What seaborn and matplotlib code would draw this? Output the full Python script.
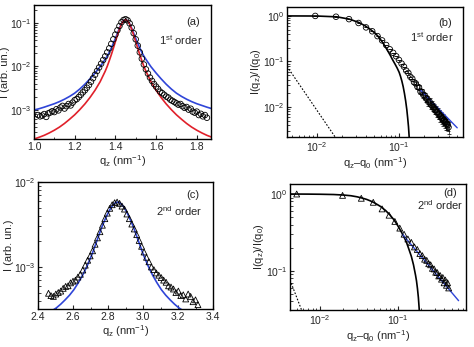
import numpy as np
import pandas as pd
import matplotlib
matplotlib.use("Agg")
import matplotlib.pyplot as plt
from matplotlib.ticker import MultipleLocator, LogLocator, NullFormatter
import seaborn as sns

sns.set_style("ticks")
plt.rcParams['font.family'] = ['Liberation Sans', 'DejaVu Sans']
plt.rcParams['mathtext.fontset'] = 'custom'
plt.rcParams['mathtext.rm'] = 'Liberation Sans'
plt.rcParams['mathtext.it'] = 'Liberation Sans:italic'
plt.rcParams['mathtext.default'] = 'regular'

BLUE = "#2f45d8"
RED = "#e0202a"

# ---------------- Panel (a): 1st order peak ----------------
qa = [1.02, 1.03, 1.04, 1.05, 1.06, 1.07, 1.08, 1.09, 1.10, 1.11, 1.12, 1.13, 1.14, 1.15,
      1.16, 1.17, 1.18, 1.19, 1.20, 1.21, 1.22, 1.23, 1.24, 1.25, 1.26, 1.27, 1.28, 1.29,
      1.30, 1.31, 1.32, 1.33, 1.34, 1.35, 1.36, 1.37, 1.38, 1.39, 1.40, 1.41, 1.42, 1.43,
      1.44, 1.45, 1.46, 1.47, 1.48, 1.49, 1.50, 1.51, 1.52, 1.53, 1.54, 1.55, 1.56, 1.57,
      1.58, 1.59, 1.60, 1.61, 1.62, 1.63, 1.64, 1.65, 1.66, 1.67, 1.68, 1.69, 1.70, 1.71,
      1.72, 1.73, 1.74, 1.75, 1.76, 1.77, 1.78, 1.79, 1.80, 1.81, 1.82, 1.83, 1.84, 1.85]
Ia = [7.5e-4, 7.0e-4, 7.3e-4, 7.9e-4, 6.8e-4, 8.2e-4, 8.6e-4, 9.2e-4, 8.8e-4, 1.02e-3,
      9.6e-4, 1.12e-3, 1.22e-3, 1.06e-3, 1.2e-3, 1.35e-3, 1.25e-3, 1.45e-3, 1.65e-3, 1.75e-3,
      1.95e-3, 2.2e-3, 2.5e-3, 2.8e-3, 3.2e-3, 3.7e-3, 4.4e-3, 5.3e-3, 6.4e-3, 7.8e-3,
      9.4e-3, 1.15e-2, 1.4e-2, 1.7e-2, 2.1e-2, 2.6e-2, 3.3e-2, 4.2e-2, 5.4e-2, 6.8e-2,
      8.5e-2, 0.104, 0.117, 0.122, 0.115, 0.098, 0.078, 0.058, 0.042, 0.030, 0.021, 0.015,
      0.011, 8.5e-3, 6.8e-3, 5.5e-3, 4.6e-3, 3.9e-3, 3.4e-3, 3.0e-3, 2.6e-3, 2.4e-3,
      2.2e-3, 2.0e-3, 1.9e-3, 1.7e-3, 1.6e-3, 1.5e-3, 1.4e-3, 1.3e-3, 1.35e-3, 1.2e-3,
      1.1e-3, 1.15e-3, 1.0e-3, 1.05e-3, 9.0e-4, 8.5e-4, 9.0e-4, 7.5e-4, 8.0e-4, 7.0e-4,
      7.5e-4, 6.5e-4]

# fit curves in (a): symmetric about the peak centre, given vs distance from it
qa_centre = 1.45
dqa = [0.0, 0.01, 0.02, 0.03, 0.04, 0.05, 0.06, 0.07, 0.08, 0.09, 0.10, 0.125, 0.15,
       0.175, 0.20, 0.225, 0.25, 0.275, 0.30, 0.325, 0.35, 0.375, 0.40, 0.425, 0.45]
Ia_blue = [0.12, 0.113, 0.096, 0.076, 0.058, 0.044, 0.034, 0.0265, 0.021, 0.0172, 0.0145,
           0.00977, 0.0070, 0.00513, 0.00385, 0.00299, 0.0024, 0.00202, 0.00174, 0.00153,
           0.00137, 0.00125, 0.00114, 0.00105, 0.00098]
Ia_red = [0.12, 0.112, 0.094, 0.072, 0.052, 0.037, 0.026, 0.0185, 0.0135, 0.0100, 0.0077,
          0.0044, 0.0028, 0.0019, 0.00135, 0.0010, 0.00076, 0.0006, 0.00048, 0.000395,
          0.000335, 0.00029, 0.000255, 0.00023, 0.00021]

# ---------------- Panel (b): 1st order, normalised ----------------
xb = [0.0095, 0.017, 0.0245, 0.032, 0.0395, 0.047, 0.0545, 0.062, 0.0695, 0.077, 0.0845,
      0.092, 0.0995, 0.107, 0.1145, 0.122, 0.1295, 0.137, 0.1445, 0.152, 0.1595, 0.167,
      0.1745, 0.182, 0.1895, 0.197, 0.2045, 0.212, 0.2195, 0.227, 0.2345, 0.242, 0.2495,
      0.257, 0.2645, 0.272, 0.2795, 0.287, 0.2945, 0.302, 0.3095, 0.317, 0.3245, 0.332,
      0.3395, 0.347, 0.3545, 0.362, 0.3695, 0.377, 0.3845, 0.392, 0.3995]
yb = [1.0, 0.96, 0.85, 0.70, 0.56, 0.46, 0.36, 0.29, 0.23, 0.185, 0.155, 0.13, 0.108,
      0.090, 0.077, 0.063, 0.056, 0.046, 0.042, 0.035, 0.033, 0.028, 0.027, 0.022, 0.0215,
      0.0185, 0.018, 0.0155, 0.0152, 0.013, 0.0132, 0.0114, 0.0112, 0.0100, 0.0098, 0.0087,
      0.0087, 0.0077, 0.0077, 0.0069, 0.0069, 0.0062, 0.0063, 0.0056, 0.0057, 0.0050,
      0.0052, 0.0047, 0.0047, 0.0043, 0.0043, 0.0040, 0.0036]
eb = [0, 0, 0, 0, 0, 0, 0, 0, 0, 0, 0, 0, 0, 0, 0, 0, 0, 0, 0, 0.003, 0.003, 0.003,
      0.003, 0.003, 0.003, 0.0028, 0.0027, 0.0026, 0.0025, 0.0024, 0.0023, 0.0022, 0.0021,
      0.002, 0.0019, 0.0018, 0.0017, 0.0016, 0.0016, 0.0015, 0.0015, 0.0014, 0.0014,
      0.0013, 0.0013, 0.0012, 0.0012, 0.0012, 0.0011, 0.0011, 0.0011, 0.0010, 0.0010]
xb_black = [0.0043, 0.0099, 0.0174, 0.0248, 0.0325, 0.0385, 0.0443, 0.051, 0.0555, 0.0598,
            0.0635, 0.0676, 0.0725, 0.0777, 0.083, 0.089, 0.0945, 0.100, 0.104, 0.108,
            0.112, 0.116, 0.120, 0.124, 0.127, 0.130, 0.1325]
yb_black = [1.0, 0.995, 0.955, 0.85, 0.715, 0.605, 0.51, 0.418, 0.355, 0.298, 0.255, 0.213,
            0.172, 0.138, 0.11, 0.088, 0.072, 0.058, 0.047, 0.037, 0.028, 0.020, 0.0137,
            0.0088, 0.0058, 0.0037, 0.0022]
xb_dash = [0.0043, 0.0166]
yb_dash = [0.078, 0.0022]
xb_blue = [0.18, 0.51]
yb_blue = [0.024, 0.0035]

# ---------------- Panel (c): 2nd order peak ----------------
qc = [2.460, 2.474, 2.488, 2.502, 2.516, 2.530, 2.544, 2.558, 2.572, 2.586, 2.600, 2.614,
      2.628, 2.642, 2.656, 2.670, 2.684, 2.698, 2.712, 2.726, 2.740, 2.754, 2.768, 2.782,
      2.796, 2.810, 2.824, 2.838, 2.852, 2.866, 2.880, 2.894, 2.908, 2.922, 2.936, 2.950,
      2.964, 2.978, 2.992, 3.006, 3.020, 3.034, 3.048, 3.062, 3.076, 3.090, 3.104, 3.118,
      3.132, 3.146, 3.160, 3.174, 3.188, 3.202, 3.216, 3.230, 3.244, 3.258, 3.272, 3.286,
      3.300, 3.314]
Ic = [4.9e-4, 4.6e-4, 4.5e-4, 4.8e-4, 5.0e-4, 5.2e-4, 5.6e-4, 5.9e-4, 6.0e-4, 6.5e-4,
      6.8e-4, 7.0e-4, 7.6e-4, 8.2e-4, 9.2e-4, 1.05e-3, 1.2e-3, 1.35e-3, 1.55e-3, 1.85e-3,
      2.2e-3, 2.6e-3, 3.1e-3, 3.7e-3, 4.3e-3, 4.9e-3, 5.4e-3, 5.7e-3, 5.8e-3, 5.6e-3,
      5.2e-3, 4.8e-3, 4.2e-3, 3.7e-3, 3.2e-3, 2.8e-3, 2.4e-3, 2.05e-3, 1.75e-3, 1.5e-3,
      1.3e-3, 1.15e-3, 1.0e-3, 9.3e-4, 8.5e-4, 8.0e-4, 7.5e-4, 7.0e-4, 6.6e-4, 6.0e-4,
      5.8e-4, 5.5e-4, 5.0e-4, 5.2e-4, 4.6e-4, 4.7e-4, 4.2e-4, 4.8e-4, 4.5e-4, 3.9e-4,
      4.1e-4, 3.6e-4]
qc_centre = 2.855
dqc = [0.0, 0.0125, 0.025, 0.0375, 0.05, 0.0625, 0.075, 0.0875, 0.10, 0.1125, 0.125,
       0.1375, 0.15, 0.175, 0.20, 0.225, 0.25, 0.275, 0.30, 0.325, 0.35, 0.375]
Ic_blue = [5.8e-3, 5.7e-3, 5.4e-3, 5.0e-3, 4.5e-3, 4.0e-3, 3.5e-3, 3.05e-3, 2.6e-3,
           2.2e-3, 1.87e-3, 1.58e-3, 1.35e-3, 1.02e-3, 8.0e-4, 6.5e-4, 5.4e-4, 4.65e-4,
           4.1e-4, 3.65e-4, 3.3e-4, 3.05e-4]

# ---------------- Panel (d): 2nd order, normalised ----------------
xd = [0.005, 0.0195, 0.034, 0.0485, 0.063, 0.0775, 0.092, 0.1065, 0.121, 0.1355, 0.150,
      0.1645, 0.179, 0.1935, 0.208, 0.2225, 0.237, 0.2515, 0.266, 0.2805, 0.295, 0.3095,
      0.324, 0.3385, 0.353, 0.3675, 0.382, 0.3965, 0.411, 0.4255, 0.440, 0.4545]
yd = [1.0, 0.96, 0.88, 0.78, 0.64, 0.53, 0.44, 0.36, 0.30, 0.26, 0.235, 0.205, 0.19,
      0.168, 0.158, 0.142, 0.137, 0.124, 0.12, 0.108, 0.106, 0.096, 0.095, 0.086, 0.087,
      0.078, 0.082, 0.070, 0.076, 0.065, 0.070, 0.060]
xd_black = [0.0041, 0.007, 0.01, 0.015, 0.02, 0.025, 0.03, 0.035, 0.04, 0.045, 0.05, 0.06,
            0.07, 0.08, 0.09, 0.10, 0.11, 0.12, 0.13, 0.14, 0.15, 0.16, 0.17, 0.175, 0.18,
            0.185, 0.19]
yd_black = [1.0, 0.997, 0.993, 0.985, 0.97, 0.95, 0.92, 0.885, 0.85, 0.81, 0.77, 0.69,
            0.61, 0.53, 0.46, 0.39, 0.33, 0.28, 0.235, 0.19, 0.155, 0.12, 0.088, 0.074,
            0.059, 0.045, 0.031]
xd_dash = [0.0041, 0.00578]
yd_dash = [0.076, 0.031]
xd_blue = [0.115, 0.61]
yd_blue = [0.30, 0.041]

W, H = 474, 347
fig = plt.figure(figsize=(W / 100, H / 100), dpi=100)


def make_ax(l, r, t, b):
    return fig.add_axes([l / W, (H - b) / H, (r - l) / W, (b - t) / H])


axa = make_ax(34, 211, 5, 139)
axb = make_ax(287, 463, 7, 137)
axc = make_ax(38, 213, 182, 309)
axd = make_ax(290, 466, 184, 310)

FS = 8
TS = 7.5
mk = dict(facecolor='none', edgecolor='black', linewidth=0.6)


def line(ax, x, y, color, lw=1.2, ls='-'):
    sns.lineplot(x=x, y=y, ax=ax, color=color, lw=lw, linestyle=ls, sort=False,
                 estimator=None, legend=False)


def mirror(centre, d, v):
    # build a symmetric curve table (left branch + right branch) from the read values
    x = [centre - t for t in d[::-1]] + [centre + t for t in d[1:]]
    y = list(v[::-1]) + list(v[1:])
    return pd.DataFrame({'q': x, 'I': y})


# (a)
ta_b = mirror(qa_centre, dqa, Ia_blue)
ta_r = mirror(qa_centre, dqa, Ia_red)
line(axa, ta_b['q'], ta_b['I'], BLUE)
line(axa, ta_r['q'], ta_r['I'], RED)
sns.scatterplot(x=qa, y=Ia, ax=axa, marker='o', s=16, zorder=3, **mk)
axa.set_yscale('log')
axa.set_xlim(1.0, 1.87)
axa.set_ylim(2.1e-4, 0.26)
axa.set_xticks([1.0, 1.2, 1.4, 1.6, 1.8])
axa.set_xticklabels(['1.0', '1.2', '1.4', '1.6', '1.8'])
axa.xaxis.set_minor_locator(MultipleLocator(0.1))
axa.set_xlabel('q$_z$ (nm$^{-1}$)', fontsize=FS, labelpad=1)
axa.set_ylabel('I (arb. un.)', fontsize=FS, labelpad=0)
axa.text(0.94, 0.87, '(a)', transform=axa.transAxes, ha='right', va='center', fontsize=FS)
axa.text(0.95, 0.74, '1$^{st}$ order', transform=axa.transAxes, ha='right', va='center',
         fontsize=FS)

# (b)
line(axb, xb_black, yb_black, 'black')
line(axb, xb_dash, yb_dash, 'black', lw=0.8, ls=(0, (1.5, 1.5)))
axb.errorbar(xb, yb, yerr=eb, fmt='none', ecolor='black', elinewidth=0.5, capsize=1.5,
             capthick=0.5, zorder=2)
sns.scatterplot(x=xb, y=yb, ax=axb, marker='o', s=16, zorder=3, **mk)
line(axb, xb_blue, yb_blue, BLUE, lw=1.0)
axb.set_xscale('log')
axb.set_yscale('log')
axb.set_xlim(4.3e-3, 0.6)
axb.set_ylim(2.2e-3, 1.57)
axb.set_xlabel('q$_z$–q$_0$ (nm$^{-1}$)', fontsize=FS, labelpad=1)
axb.set_ylabel('I(q$_z$)/I(q$_0$)', fontsize=FS, labelpad=0)
axb.text(0.94, 0.875, '(b)', transform=axb.transAxes, ha='right', va='center', fontsize=FS)
axb.text(0.945, 0.765, '1$^{st}$ order', transform=axb.transAxes, ha='right', va='center',
         fontsize=FS)

# (c)
tc_b = mirror(qc_centre, dqc, Ic_blue)
line(axc, tc_b['q'], tc_b['I'], BLUE)
sns.scatterplot(x=qc, y=Ic, ax=axc, marker='^', s=18, zorder=3, **mk)
axc.set_yscale('log')
axc.set_xlim(2.4, 3.4)
axc.set_ylim(3.2e-4, 1e-2)
axc.set_xticks([2.4, 2.6, 2.8, 3.0, 3.2, 3.4])
axc.set_xticklabels(['2.4', '2.6', '2.8', '3.0', '3.2', '3.4'])
axc.xaxis.set_minor_locator(MultipleLocator(0.1))
axc.set_xlabel('q$_z$ (nm$^{-1}$)', fontsize=FS, labelpad=1)
axc.set_ylabel('I (arb. un.)', fontsize=FS, labelpad=0)
axc.text(0.92, 0.9, '(c)', transform=axc.transAxes, ha='right', va='center', fontsize=FS)
axc.text(0.94, 0.77, '2$^{nd}$ order', transform=axc.transAxes, ha='right', va='center',
         fontsize=FS)

# (d)
line(axd, xd_black, yd_black, 'black')
line(axd, xd_dash, yd_dash, 'black', lw=0.8, ls=(0, (1.5, 1.5)))
sns.scatterplot(x=xd, y=yd, ax=axd, marker='^', s=18, zorder=3, **mk)
line(axd, xd_blue, yd_blue, BLUE, lw=1.0)
axd.set_xscale('log')
axd.set_yscale('log')
axd.set_xlim(4.1e-3, 0.76)
axd.set_ylim(0.031, 1.35)
axd.set_xlabel('q$_z$–q$_0$ (nm$^{-1}$)', fontsize=FS, labelpad=1)
axd.set_ylabel('I(q$_z$)/I(q$_0$)', fontsize=FS, labelpad=0)
axd.text(0.95, 0.93, '(d)', transform=axd.transAxes, ha='right', va='center', fontsize=FS)
axd.text(0.985, 0.83, '2$^{nd}$ order', transform=axd.transAxes, ha='right', va='center',
         fontsize=FS)

for ax in (axa, axb, axc, axd):
    ax.tick_params(which='both', direction='in', labelsize=TS, pad=2)
    ax.tick_params(which='major', length=3, width=0.8)
    ax.tick_params(which='minor', length=1.8, width=0.6)
    for s in ax.spines.values():
        s.set_linewidth(1.0)
        s.set_visible(True)
        s.set_color('black')
    if ax.get_yscale() == 'log':
        ax.yaxis.set_minor_locator(LogLocator(base=10, subs=np.arange(2, 10) * 1.0, numticks=20))
        ax.yaxis.set_minor_formatter(NullFormatter())
    if ax.get_xscale() == 'log':
        ax.xaxis.set_minor_locator(LogLocator(base=10, subs=np.arange(2, 10) * 1.0, numticks=20))
        ax.xaxis.set_minor_formatter(NullFormatter())

fig.savefig('out.png', dpi=100)
